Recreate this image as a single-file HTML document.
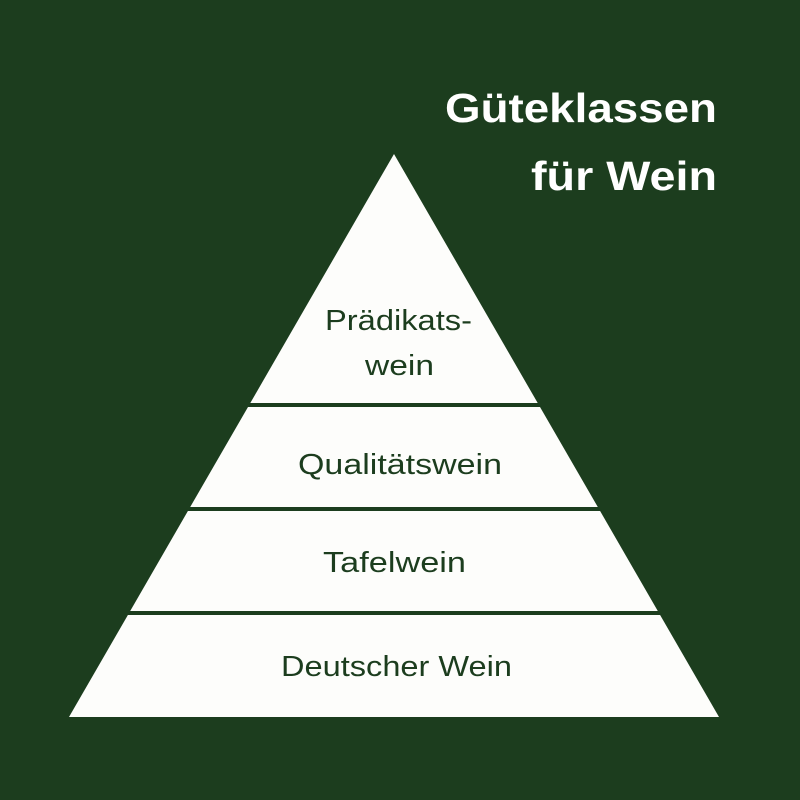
<!DOCTYPE html>
<html><head><meta charset="utf-8"><style>
html,body{margin:0;padding:0;background:#1c3d1e;width:800px;height:800px;overflow:hidden;}
svg{display:block;}
text{font-family:"Liberation Sans",sans-serif;}
</style></head><body>
<svg width="800" height="800" viewBox="0 0 800 800" xmlns="http://www.w3.org/2000/svg">
<rect width="800" height="800" fill="#1c3d1e"/>
<g fill="#fdfdfb">
<polygon points="394,154 537.7,403 250.3,403"/>
<polygon points="248,407 540,407 597.8,507 190.2,507"/>
<polygon points="187.9,511 600.1,511 657.8,611 130.2,611"/>
<polygon points="127.9,615 660.1,615 719,717 69,717"/>
</g>
<text x="445" y="122" font-size="41" font-weight="bold" fill="#fff" textLength="272" lengthAdjust="spacingAndGlyphs">Güteklassen</text>
<text x="531" y="190" font-size="41" font-weight="bold" fill="#fff" textLength="186" lengthAdjust="spacingAndGlyphs">für Wein</text>
<g fill="#1c3d1e" font-size="29">
<text x="325" y="330" textLength="147" lengthAdjust="spacingAndGlyphs">Prädikats-</text>
<text x="365" y="375" textLength="69" lengthAdjust="spacingAndGlyphs">wein</text>
<text x="298" y="474" textLength="204" lengthAdjust="spacingAndGlyphs">Qualitätswein</text>
<text x="323" y="572" textLength="143" lengthAdjust="spacingAndGlyphs">Tafelwein</text>
<text x="281" y="676" textLength="231" lengthAdjust="spacingAndGlyphs">Deutscher Wein</text>
</g>
</svg>
</body></html>
